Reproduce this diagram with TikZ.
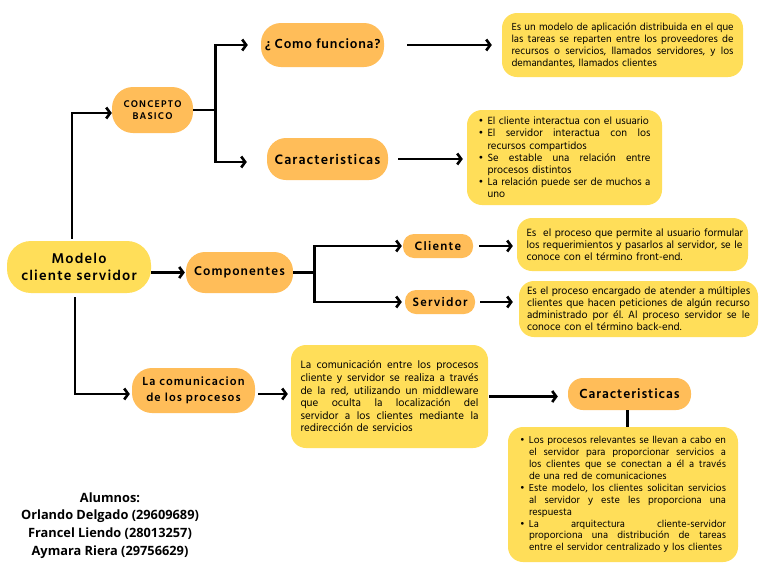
\documentclass[tikz,border=0pt]{standalone}
\usepackage{fontspec}
\setmainfont{Hind Siliguri}
\newfontfamily\cuerpo[WordSpace=1.4]{Hind Siliguri}
\newfontfamily\alumfont{Open Sans}
\usetikzlibrary{positioning, arrows.meta}
\definecolor{amarillo}{HTML}{FFDE59}
\definecolor{naranja}{HTML}{FFBD59}
\setlength{\parindent}{0pt}
\frenchspacing
\newcommand{\lj}[1]{\hbox to \hsize{\spaceskip=\fontdimen2\font plus 1fil\relax #1}}
\newcommand{\lf}[1]{\hbox to \hsize{#1\hfil}}
\newcommand{\bul}{\hbox to 9pt{\textbullet\hfil}}
\newcommand{\sg}{\hskip 9pt}
\tikzset{
    capsula/.style={fill=naranja, inner sep=0pt, align=center},
    nota/.style={fill=amarillo, rounded corners=15pt, inner sep=0pt, font=\cuerpo\fontsize{10.8}{12}\selectfont},
    flecha/.style={line width=2.6pt, -{Straight Barb[length=4pt,width=11pt]}},
    linea/.style={line width=2.6pt}
}

\begin{document}
\begin{tikzpicture}[x=1pt, y=-1pt]
    \fill[white] (0,0) rectangle (768,576);

    \node[capsula, fill=amarillo, minimum width=144pt, minimum height=52pt, rounded corners=24pt, font=\bfseries\fontsize{14.5}{17}\selectfont\addfontfeature{LetterSpace=8}] (modelo) at (79,267) {Modelo\\cliente servidor};
    \node[capsula, minimum width=81pt, minimum height=46pt, rounded corners=21pt, font=\bfseries\fontsize{10}{12.5}\selectfont\addfontfeature{LetterSpace=12}] (concepto) at (152.5,110) {CONCEPTO\\BASICO};
    \node[capsula, minimum width=123pt, minimum height=44pt, rounded corners=20pt, font=\bfseries\fontsize{13.5}{16}\selectfont\addfontfeature{LetterSpace=6}] (como) at (322.5,45) {¿ Como funciona?};
    \node[capsula, minimum width=121pt, minimum height=42pt, rounded corners=19pt, font=\bfseries\fontsize{14}{16}\selectfont\addfontfeature{LetterSpace=8}] (carac) at (327.5,159) {Caracteristicas};
    \node[capsula, minimum width=107pt, minimum height=41pt, rounded corners=19pt, font=\bfseries\fontsize{13}{16}\selectfont\addfontfeature{LetterSpace=8}] (comp) at (239.5,272.5) {Componentes};
    \node[capsula, minimum width=70pt, minimum height=24pt, rounded corners=11pt, font=\bfseries\fontsize{12.5}{14}\selectfont\addfontfeature{LetterSpace=10}] (cliente) at (438,246) {Cliente};
    \node[capsula, minimum width=70pt, minimum height=24pt, rounded corners=11pt, font=\bfseries\fontsize{12.5}{14}\selectfont\addfontfeature{LetterSpace=10}] (servidor) at (440,302) {Servidor};
    \node[capsula, minimum width=123pt, minimum height=45pt, rounded corners=20pt, font=\bfseries\fontsize{12}{16}\selectfont\addfontfeature{LetterSpace=9}] (comun) at (193.5,390.5) {La comunicacion\\de los procesos};
    \node[capsula, minimum width=123pt, minimum height=32pt, rounded corners=15pt, font=\bfseries\fontsize{13.5}{16}\selectfont\addfontfeature{LetterSpace=7}] (caracB) at (629.5,394) {Caracteristicas};

    \node[nota, text width=222pt, minimum width=241pt, minimum height=64pt, font=\cuerpo\fontsize{10.5}{12}\selectfont] (comoTxt) at (622.5,45) {%
        \lj{Es un modelo de aplicación distribuida en el que}
        \lj{las tareas se reparten entre los proveedores de}
        \lj{recursos o servicios, llamados servidores, y los}
        \lf{demandantes, llamados clientes}};
    \node[nota, text width=172pt, minimum width=195pt, minimum height=95pt, font=\cuerpo\fontsize{10.7}{12.2}\selectfont] (caracTxt) at (564.5,157.5) {%
        \lf{\bul El cliente interactua con el usuario}
        \lj{\bul El servidor interactua con los}
        \lf{\sg recursos compartidos}
        \lj{\bul Se estable una relación entre}
        \lf{\sg procesos distintos}
        \lj{\bul La relación puede ser de muchos a}
        \lf{\sg uno}};
    \node[nota, text width=212pt, minimum width=231pt, minimum height=53pt] (clienteTxt) at (632.5,244.5) {%
        \lj{Es\ \ el proceso que permite al usuario formular}
        \lj{los requerimientos y pasarlos al servidor, se le}
        \lf{conoce con el término front-end.}};
    \node[nota, text width=223pt, minimum width=239pt, minimum height=56pt] (servidorTxt) at (638.5,309) {%
        \lj{Es el proceso encargado de atender a múltiples}
        \lj{clientes que hacen peticiones de algún recurso}
        \lj{administrado por él. Al proceso servidor se le}
        \lf{conoce con el término back-end.}};
    \node[nota, text width=178pt, minimum width=197pt, minimum height=103pt, font=\cuerpo\fontsize{11}{12.6}\selectfont] (comunTxt) at (389.5,396.5) {%
        \lj{La comunicación entre los procesos}
        \lj{cliente y servidor se realiza a través}
        \lj{de la red, utilizando un middleware}
        \lj{que oculta la localización del}
        \lj{servidor a los clientes mediante la}
        \lf{redirección de servicios}};
    \node[nota, text width=206pt, minimum width=230pt, minimum height=135pt, font=\cuerpo\fontsize{10.3}{11.9}\selectfont] (caracBTxt) at (623,494.5) {%
        \lj{\bul Los procesos relevantes se llevan a cabo en}
        \lj{\sg el servidor para proporcionar servicios a}
        \lj{\sg los clientes que se conectan a él a través}
        \lf{\sg de una red de comunicaciones}
        \lj{\bul Este modelo, los clientes solicitan servicios}
        \lj{\sg al servidor y este les proporciona una}
        \lf{\sg respuesta}
        \lj{\bul La arquitectura cliente-servidor}
        \lj{\sg proporciona una distribución de tareas}
        \lf{\sg entre el servidor centralizado y los clientes}};

    \node[align=center, font=\alumfont\bfseries\fontsize{12.8}{17.7}\selectfont] (alumnos) at (110,525.5) {Alumnos:\\Orlando Delgado (29609689)\\Francel Liendo (28013257)\\Aymara Riera (29756629)};

    \draw[flecha] ([xshift=-7pt, yshift=2pt]modelo.north) |- ([yshift=-3pt]concepto.west);
    \draw[flecha] ([xshift=-4pt, yshift=-4pt]modelo.south) |- ([xshift=-2pt, yshift=-3.5pt]comun.west);
    \draw[flecha] (modelo.east |- comp.west) -- ([xshift=-1pt]comp.west);

    \draw[linea] (concepto.east) -- ++(22,0) coordinate (nudoA);
    \draw[flecha] (nudoA) |- ([xshift=-13pt]como.west);
    \draw[flecha] (nudoA) |- ([xshift=-20pt, yshift=-3pt]carac.west);
    \draw[flecha] ([xshift=23pt]como.east) -- ([xshift=-10pt]comoTxt.west |- como.east);
    \draw[flecha] ([xshift=10pt]carac.east) -- ([xshift=-4pt]caracTxt.west |- carac.east);

    \draw[linea] (comp.east) -- ++(21,0) coordinate (nudoB);
    \draw[flecha] (nudoB) |- ([xshift=-1pt]cliente.west);
    \draw[flecha] (nudoB) |- ([xshift=-3pt]servidor.west);
    \draw[flecha] ([xshift=6pt]cliente.east) -- ([xshift=-4pt]clienteTxt.west |- cliente.east);
    \draw[flecha] ([xshift=5pt]servidor.east) -- ([xshift=-6pt]servidorTxt.west |- servidor.east);

    \draw[flecha] ([xshift=3pt, yshift=-3.5pt]comun.east) -- ([xshift=-3pt, yshift=-3.5pt]comunTxt.west |- comun.east);
    \draw[flecha] ([xshift=1pt]comunTxt.east) -- ([xshift=-10pt]caracB.west |- comunTxt.east);
    \draw[linea] ([xshift=-2pt]caracB.south) -- ([xshift=-2pt]caracB.south |- caracBTxt.north);
\end{tikzpicture}
\end{document}
